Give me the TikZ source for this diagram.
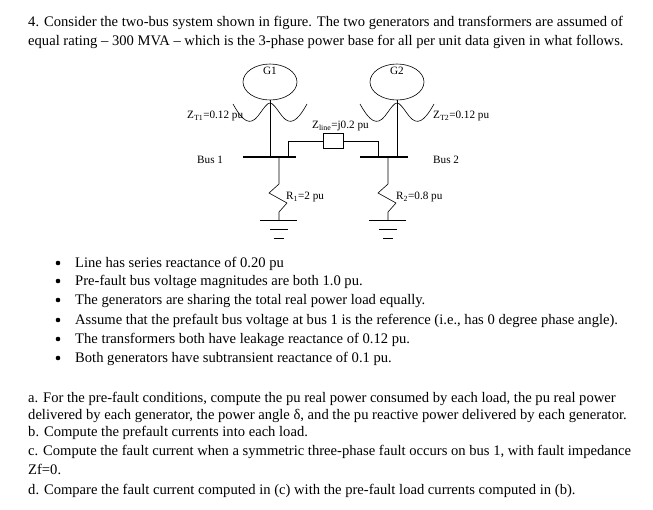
\documentclass[tikz,border=0pt]{standalone}
\usepackage{fontspec}
\setmainfont{Liberation Serif}
\usetikzlibrary{calc}
\begin{document}
\begin{tikzpicture}[x=1pt,y=-1pt,
  txt/.style={inner sep=0pt,anchor=base west,font=\fontsize{14.6}{16}\selectfont},
  sm/.style={inner sep=0pt,font=\fontsize{11.2}{13}\selectfont},
  wire/.style={line width=0.6pt},
  bus/.style={line width=2.2pt}]
\useasboundingbox (0,0) rectangle (653,509);
% text
\node[txt] (t1) at (28,26) {4. Consider the two-bus system shown in figure. The two generators and transformers are assumed of};
\node[txt] (t2) at (28,45) {equal rating -- 300 MVA -- which is the 3-phase power base for all per unit data given in what follows.};
\foreach \yy/\tx [count=\i] in {267/Line has series reactance of 0.20 pu,
  285/Pre-fault bus voltage magnitudes are both 1.0 pu.,
  304/The generators are sharing the total real power load equally.,
  324/{Assume that the prefault bus voltage at bus 1 is the reference (i.e., has 0 degree phase angle).},
  343/The transformers both have leakage reactance of 0.12 pu.,
  362/Both generators have subtransient reactance of 0.1 pu.}{
  \node[txt] (b\i) at (75,\yy) {\tx};
  \fill (58,\yy-4) circle (2.3);
}
\node[txt] (p1) at (28,402) {a. For the pre-fault conditions, compute the pu real power consumed by each load, the pu real power};
\node[txt] (p2) at (28,419) {delivered by each generator, the power angle δ, and the pu reactive power delivered by each generator.};
\node[txt] (p3) at (28,436) {b. Compute the prefault currents into each load.};
\node[txt] (p4) at (28,455) {c. Compute the fault current when a symmetric three-phase fault occurs on bus 1, with fault impedance};
\node[txt] (p5) at (28,474) {Zf=0.};
\node[txt] (p6) at (28,494) {d. Compare the fault current computed in (c) with the pre-fault load currents computed in (b).};
% generators
\foreach \n/\gx/\lab in {g1/270/G1,g2/397/G2}{
  \draw[wire] (\gx,82) ellipse (27 and 18);
  \node[sm] (\n) at (\gx,71) {\lab};
  \draw[wire] (\gx,100) -- (\gx,157);
  \draw[wire] (\gx-37,104) .. controls (\gx-27,122) and (\gx-20,126) .. (\gx-12,116)
     .. controls (\gx-6,108) and (\gx-3,103) .. (\gx,103)
     .. controls (\gx+3,103) and (\gx+6,108) .. (\gx+12,116)
     .. controls (\gx+20,126) and (\gx+27,122) .. (\gx+37,104);
}
% buses
\draw[bus] (243,157) -- (296,157);
\draw[bus] (360,157) -- (408,157);
% line
\node[draw,wire,minimum width=20pt,minimum height=15pt,inner sep=0pt] (zl) at (333,141) {};
\draw[wire] (288,157) -- (288,141) -- (zl.west);
\draw[wire] (zl.east) -- (378,141) -- (378,157);
% loads
\foreach \lx in {279,388}{
  \draw[wire] (\lx,157) -- (\lx,184) -- (\lx-10,193) -- (\lx+8,203) -- (\lx,212) -- (\lx,220);
  \draw[wire] (\lx-19,220) -- (\lx+18,220);
  \draw[wire] (\lx-9,229) -- (\lx+9,229);
  \draw[wire] (\lx-5,238) -- (\lx+5,238);
}
% labels
\node[sm,anchor=west] (zt1) at (187,116) {Z\textsubscript{T1}=0.12 pu};
\node[sm,anchor=west] (zt2) at (433,116) {Z\textsubscript{T2}=0.12 pu};
\node[sm,anchor=west] (zll) at (312,126) {Z\textsubscript{line}=j0.2 pu};
\node[sm,anchor=west] (bus1) at (197,160) {Bus 1};
\node[sm,anchor=west] (bus2) at (433,160) {Bus 2};
\node[sm,anchor=west] (r1) at (286,197) {R\textsubscript{1}=2 pu};
\node[sm,anchor=west] (r2) at (396,197) {R\textsubscript{2}=0.8 pu};
\end{tikzpicture}
\end{document}
